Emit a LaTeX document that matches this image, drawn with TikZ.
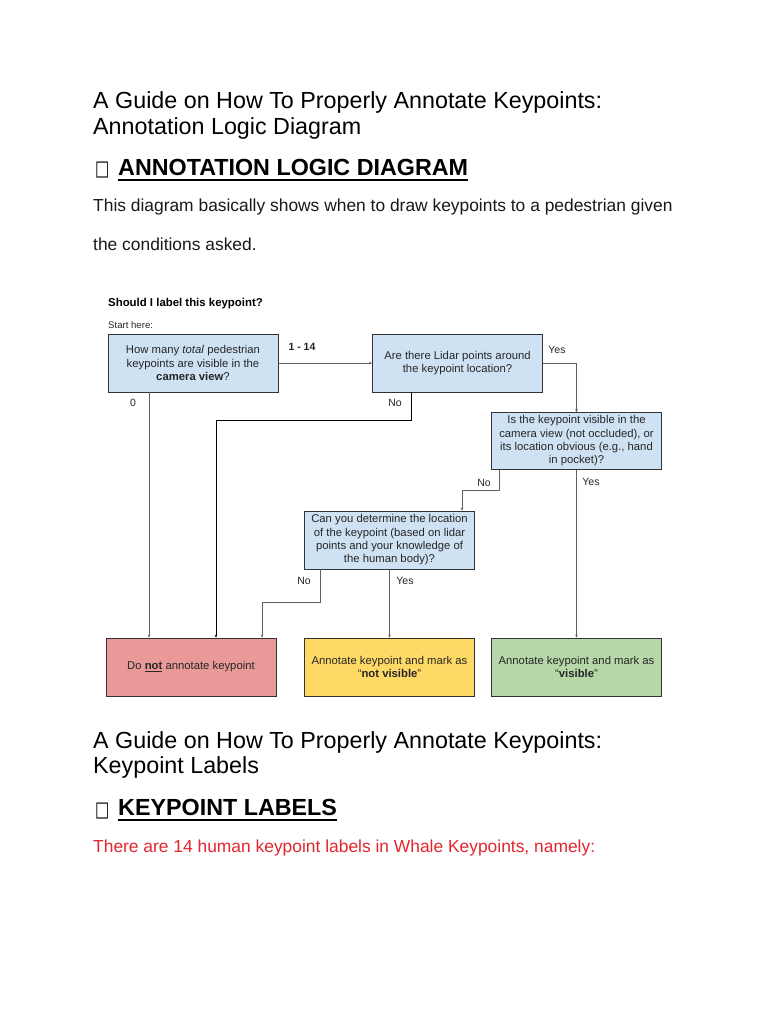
\documentclass[tikz,border=0pt]{standalone}
\usepackage{fontspec}
\setmainfont{Liberation Sans}
\newfontfamily\symfont{DejaVu Sans}
\usetikzlibrary{arrows.meta, positioning}

\definecolor{qblue}{HTML}{CFE2F3}
\definecolor{noRed}{HTML}{EA9999}
\definecolor{nvYellow}{HTML}{FFD966}
\definecolor{visGreen}{HTML}{B6D7A8}
\definecolor{lineGray}{HTML}{5F5F5F}
\definecolor{redText}{HTML}{E3262E}

\begin{document}
\begin{tikzpicture}[x=1pt, y=-1pt,
  %%── Styles ───────────────────────────────────────────────────────────────
  question/.style={
    rectangle, draw=black!80, fill=qblue, line width=0.8pt,
    minimum width=170pt, minimum height=58pt, inner sep=0pt,
    align=center, text=black!85, font=\fontsize{11.3}{13.3}\selectfont
  },
  outcome/.style={question},
  flow/.style={draw=lineGray, line width=0.7pt,
    -{Stealth[length=3pt, width=2.6pt]}},
  branch/.style={inner sep=0pt, text=black!85,
    font=\fontsize{10.5}{12}\selectfont},
  pagetitle/.style={anchor=base west, inner sep=0pt,
    font=\fontsize{23.3}{26}\selectfont},
  heading/.style={anchor=base west, inner sep=0pt,
    font=\fontsize{23.3}{26}\selectfont\bfseries},
  headline/.style={line width=1.6pt},
  missing/.style={anchor=base west, inner sep=0pt,
    font=\fontsize{21}{24}\symfont},
  bodytext/.style={anchor=base west, inner sep=0pt,
    font=\fontsize{17.4}{20}\selectfont, text=black!90},
]

%%── Page (768 x 1024) ───────────────────────────────────────────────────
\fill[white] (0,0) rectangle (768,1024);
\useasboundingbox (0,0) rectangle (768,1024);

%%── Section 1 heading and intro text ────────────────────────────────────
\node[pagetitle] (title1a) at (93,108.5) {A Guide on How To Properly Annotate Keypoints:};
\node[pagetitle] (title1b) at (93,134.5) {Annotation Logic Diagram};
\node[missing] (box1) at (95,176) {\scalebox{0.72}[1]{□}};
\node[heading] (head1) at (118,175.5) {ANNOTATION LOGIC DIAGRAM};
\draw[headline] ([yshift=-4.5pt]head1.base west) -- ([yshift=-4.5pt]head1.base east);
\node[bodytext] (intro1) at (93,212) {This diagram basically shows when to draw keypoints to a pedestrian given};
\node[bodytext] (intro2) at (93,250) {the conditions asked.};

%%── Diagram caption ─────────────────────────────────────────────────────
\node[anchor=base west, inner sep=0pt, font=\fontsize{11.4}{13}\selectfont\bfseries]
  (caption) at (108,306) {Should I label this keypoint?};
\node[anchor=base west, inner sep=0pt, font=\fontsize{9.6}{11}\selectfont, text=black!85]
  (start) at (108,328.5) {Start here:};

%%════════════════════════════════════════════════════════════════
%% QUESTIONS  (q1, q2 row: y=363; q3: y=441; q4: y=540)
%%════════════════════════════════════════════════════════════════
\node[question] (q1) at (193,363)
  {How many \textit{total} pedestrian\\keypoints are visible in the\\\textbf{camera view}?};
\node[question] (q2) at (457.5,363)
  {Are there Lidar points around\\the keypoint location?};
\node[question, minimum height=57pt] (q3) at (576.5,441)
  {Is the keypoint visible in the\\camera view (not occluded), or\\its location obvious (e.g., hand\\in pocket)?};
\node[question] (q4) at (389.5,540)
  {Can you determine the location\\of the keypoint (based on lidar\\points and your knowledge of\\the human body)?};

%%════════════════════════════════════════════════════════════════
%% OUTCOMES  (row: y=667)
%%════════════════════════════════════════════════════════════════
\node[outcome, fill=noRed] (nope) at (191,667)
  {Do \underline{\textbf{not}} annotate keypoint};
\node[outcome, fill=nvYellow] (notvis) at (389.5,667)
  {Annotate keypoint and mark as\\“\textbf{not visible}”};
\node[outcome, fill=visGreen] (vis) at (576.5,667)
  {Annotate keypoint and mark as\\“\textbf{visible}”};

%%── Connectors ──────────────────────────────────────────────────────────
\draw[flow] (q1.east) -- (q2.west);
\draw[flow] ([xshift=-44pt]q1.south) -- ([xshift=-44pt]q1.south |- nope.north);
\draw[flow] (q2.east) -| (q3.north);
\draw[flow, draw=black, line width=0.9pt] ([xshift=-46.5pt]q2.south) -- ++(0,28) -| ([xshift=25pt]nope.north);
\draw[flow] ([xshift=-77.5pt]q3.south) -- ++(0,20) -| ([xshift=72.5pt]q4.north);
\draw[flow] (q3.south) -- (vis.north);
\draw[flow] ([xshift=-69pt]q4.south) -- ++(0,33) -| ([xshift=71pt]nope.north);
\draw[flow] (q4.south) -- (notvis.north);

%%── Branch labels ───────────────────────────────────────────────────────
\node[branch, font=\fontsize{10.5}{12}\selectfont\bfseries] (l114) at (302,347) {1 - 14};
\node[branch] (l0)     at (133,403) {0};
\node[branch] (q2yes)  at (557,350) {Yes};
\node[branch] (q2no)   at (395,403) {No};
\node[branch] (q3no)   at (484,483) {No};
\node[branch] (q3yes)  at (591,482) {Yes};
\node[branch] (q4no)   at (304,581) {No};
\node[branch] (q4yes)  at (405,581) {Yes};

%%── Section 2 heading and text ──────────────────────────────────────────
\node[pagetitle] (title2a) at (93,748.5) {A Guide on How To Properly Annotate Keypoints:};
\node[pagetitle] (title2b) at (93,773.5) {Keypoint Labels};
\node[missing] (box2) at (95,816) {\scalebox{0.72}[1]{□}};
\node[heading] (head2) at (118,815.5) {KEYPOINT LABELS};
\draw[headline] ([yshift=-4.5pt]head2.base west) -- ([yshift=-4.5pt]head2.base east);
\node[bodytext, text=redText] (count) at (93,852)
  {There are 14 human keypoint labels in Whale Keypoints, namely:};

\end{tikzpicture}
\end{document}
